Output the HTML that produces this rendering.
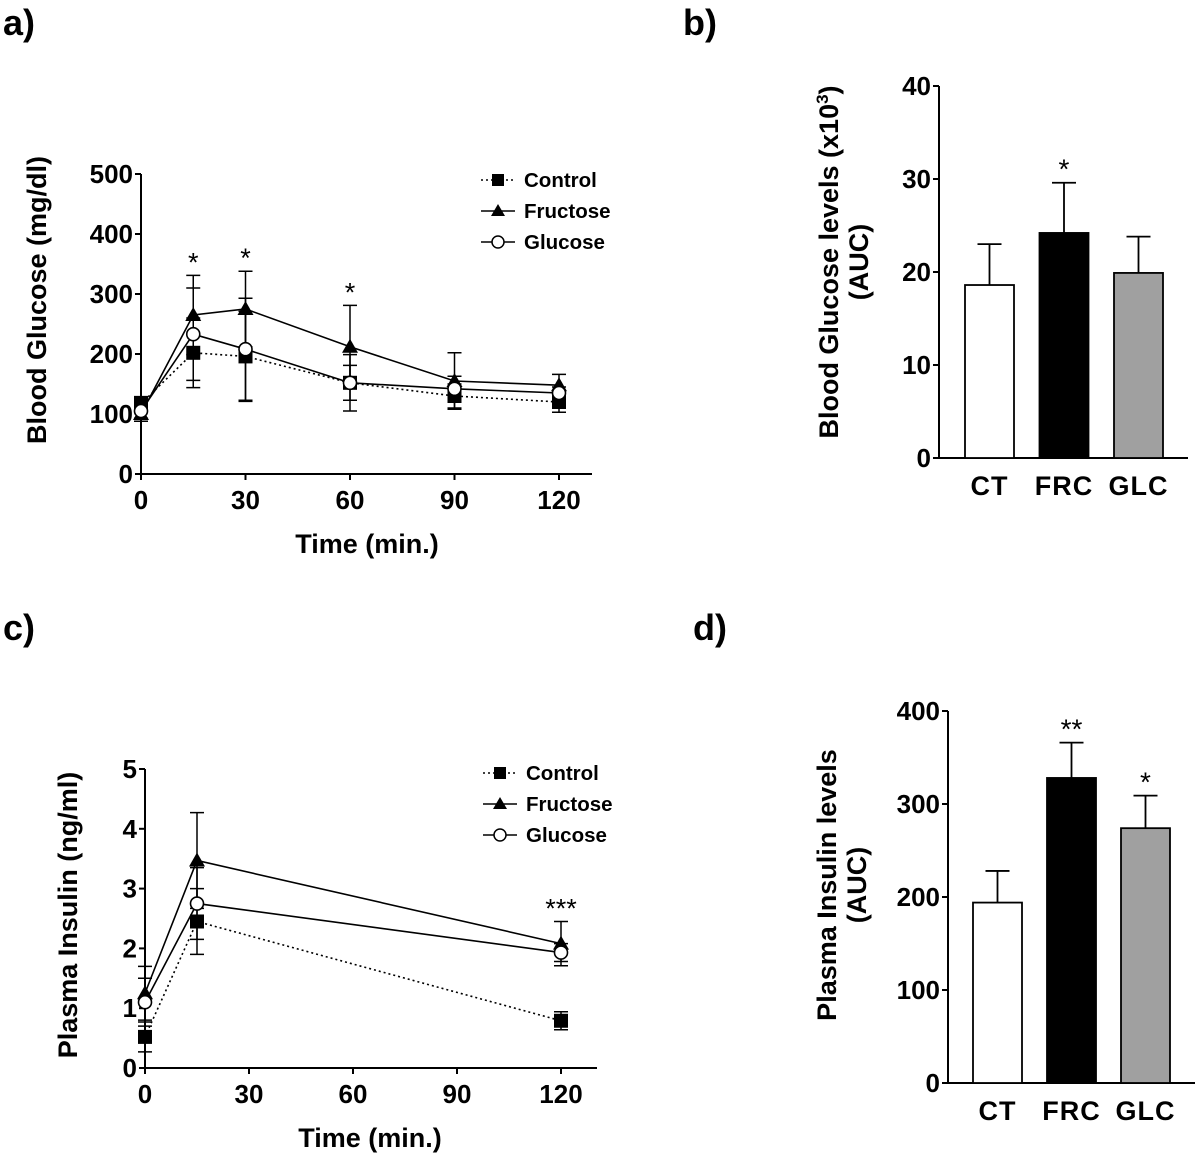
<!DOCTYPE html>
<html><head><meta charset="utf-8"><style>
html,body{margin:0;padding:0;background:#fff;}
svg{display:block;font-family:"Liberation Sans",Arial,sans-serif;}
</style></head><body>
<svg id="fig" width="1200" height="1156" viewBox="0 0 1200 1156" xmlns="http://www.w3.org/2000/svg">
<text x="3" y="35" font-size="36" font-weight="bold">a)</text>
<text x="683" y="35" font-size="36" font-weight="bold">b)</text>
<text x="3" y="640" font-size="36" font-weight="bold">c)</text>
<text x="693" y="640" font-size="36" font-weight="bold">d)</text>
</svg>
<script>
// ---- Panel a data (Blood glucose, mg/dl) ----
const timesA = [0, 15, 30, 60, 90, 120];
const ctrlA = [117, 202, 196, 152, 130, 120];
const ctrlAErr = [12, 58, 75, 47, 20, 17];
const fruA = [100, 265, 275, 212, 155, 148];
const fruAErr = [12, 66, 63, 69, 47, 18];
const gluA = [105, 233, 208, 152, 142, 135];
const gluAErr = [12, 77, 85, 29, 21, 10];
const starsA = ["", "*", "*", "*", "", ""];
const yTicksA = [0, 100, 200, 300, 400, 500];
const xTicksA = [0, 30, 60, 90, 120];
// ---- Panel c data (Plasma insulin, ng/ml) ----
const timesC = [0, 15, 120];
const ctrlC = [0.52, 2.45, 0.79];
const ctrlCErr = [0.25, 0.55, 0.15];
const fruC = [1.25, 3.47, 2.08];
const fruCErr = [0.45, 0.8, 0.37];
const gluC = [1.1, 2.75, 1.93];
const gluCErr = [0.4, 0.6, 0.15];
const starsC = ["", "", "***"];
const yTicksC = [0, 1, 2, 3, 4, 5];
const xTicksC = [0, 30, 60, 90, 120];
// ---- Panel b data (AUC glucose x10^3) ----
const groups = ["CT", "FRC", "GLC"];
const aucGlu = [18.6, 24.2, 19.9];
const aucGluErr = [4.4, 5.4, 3.9];
const starsB = ["", "*", ""];
const yTicksB = [0, 10, 20, 30, 40];
// ---- Panel d data (AUC insulin) ----
const aucIns = [194, 328, 274];
const aucInsErr = [34, 38, 35];
const starsD = ["", "**", "*"];
const yTicksD = [0, 100, 200, 300, 400];
const barFills = ["#ffffff", "#000000", "#a0a0a0"];

const TICK = 26, TITLE = 27;
const svg = document.getElementById('fig');
const NS = 'http://www.w3.org/2000/svg';
function mk(tag, attrs, parent) {
  const e = document.createElementNS(NS, tag);
  for (const k in attrs) e.setAttribute(k, attrs[k]);
  (parent || svg).appendChild(e);
  return e;
}
function txt(s, attrs, parent) { const t = mk('text', attrs, parent); t.textContent = s; return t; }

function linePanel(cfg) {
  const g = mk('g', {});
  
  
  const sx = v => cfg.x0 + (v - cfg.xmin) / (cfg.xmax - cfg.xmin) * (cfg.x1 - cfg.x0);
  const sy = v => cfg.y0 - (v - cfg.ymin) / (cfg.ymax - cfg.ymin) * (cfg.y0 - cfg.y1);
  const ya = mk('line', {x1: cfg.x0, y1: cfg.y0, x2: cfg.x0, y2: cfg.y1, stroke: '#000', 'stroke-width': 2}, g);
  
  
  const xa = mk('line', {x1: cfg.x0, y1: cfg.y0, x2: cfg.xend, y2: cfg.y0, stroke: '#000', 'stroke-width': 2}, g);
  
  
  cfg.yTicks.forEach(v => {
    mk('line', {x1: cfg.x0 - 6, y1: sy(v), x2: cfg.x0, y2: sy(v), stroke: '#000', 'stroke-width': 2}, g);
    const t = txt(String(v), {x: cfg.x0 - 8, y: sy(v) + 9, 'font-size': TICK, 'font-weight': 'bold', 'text-anchor': 'end'}, g);
    
    
  });
  cfg.xTicks.forEach(v => {
    mk('line', {x1: sx(v), y1: cfg.y0, x2: sx(v), y2: cfg.y0 + 6, stroke: '#000', 'stroke-width': 2}, g);
    const t = txt(String(v), {x: sx(v), y: cfg.y0 + 35, 'font-size': TICK, 'font-weight': 'bold', 'text-anchor': 'middle'}, g);
    
    
  });
  const xt = txt('Time (min.)', {x: (cfg.x0 + cfg.x1) / 2 + 17, y: cfg.y0 + 79, 'font-size': TITLE, 'font-weight': 'bold', 'text-anchor': 'middle'}, g);
  
  
  const yt = txt(cfg.ytitle, {x: 0, y: 0, 'font-size': TITLE, 'font-weight': 'bold', 'text-anchor': 'middle', transform: `translate(${cfg.ytx},${cfg.yty}) rotate(-90)`}, g);
  
  
  const series = [
    {n: 'control', v: cfg.ctrl, e: cfg.ctrlErr, dash: '2,3', m: 'sq'},
    {n: 'fructose', v: cfg.fru, e: cfg.fruErr, dash: '', m: 'tri'},
    {n: 'glucose', v: cfg.glu, e: cfg.gluErr, dash: '', m: 'circ'}
  ];
  series.forEach(s => {
    const sg = mk('g', {}, g);
    
    
    s.v.forEach((v, i) => {
      const x = sx(cfg.t[i]);
      const eb = mk('path', {d: `M${x},${sy(v - s.e[i])}V${sy(v + s.e[i])}M${x - 7},${sy(v + s.e[i])}H${x + 7}M${x - 7},${sy(v - s.e[i])}H${x + 7}`, stroke: '#000', 'stroke-width': 1.5, fill: 'none'}, sg);
      
      
    });
    const pts = s.v.map((v, i) => sx(cfg.t[i]) + ',' + sy(v)).join(' ');
    const pl = mk('polyline', {points: pts, fill: 'none', stroke: '#000', 'stroke-width': 1.6, 'stroke-dasharray': s.dash}, sg);
    
    
    s.v.forEach((v, i) => {
      const x = sx(cfg.t[i]), y = sy(v);
      let m;
      if (s.m === 'sq') m = mk('rect', {x: x - 7, y: y - 7, width: 14, height: 14, fill: '#000'}, sg);
      else if (s.m === 'tri') m = mk('polygon', {points: `${x},${y - 8} ${x - 8},${y + 6} ${x + 8},${y + 6}`, fill: '#000'}, sg);
      else m = mk('circle', {cx: x, cy: y, r: 6.5, fill: '#fff', stroke: '#000', 'stroke-width': 1.6}, sg);
      
      
    });
  });
  cfg.stars.forEach((s, i) => {
    if (!s) return;
    const top = Math.max(...[cfg.ctrl, cfg.fru, cfg.glu].map((a, k) => a[i] + [cfg.ctrlErr, cfg.fruErr, cfg.gluErr][k][i]));
    const t = txt(s, {x: sx(cfg.t[i]), y: sy(top) - 4, 'font-size': 27, 'text-anchor': 'middle'}, g);
    
    
  });
  const lg = mk('g', {}, g);
  
  
  const names = ['Control', 'Fructose', 'Glucose'];
  names.forEach((n, i) => {
    const y = cfg.ly + i * 31;
    const lx = cfg.lx;
    const le = mk('g', {}, lg);
    
    
    mk('line', {x1: lx, y1: y, x2: lx + 34, y2: y, stroke: '#000', 'stroke-width': 1.6, 'stroke-dasharray': i === 0 ? '2,3' : ''}, le);
    const cx = lx + 17;
    if (i === 0) mk('rect', {x: cx - 6, y: y - 6, width: 12, height: 12, fill: '#000'}, le);
    else if (i === 1) mk('polygon', {points: `${cx},${y - 7} ${cx - 7},${y + 5} ${cx + 7},${y + 5}`, fill: '#000'}, le);
    else mk('circle', {cx: cx, cy: y, r: 6, fill: '#fff', stroke: '#000', 'stroke-width': 1.5}, le);
    txt(n, {x: lx + 43, y: y + 7, 'font-size': 20.5, 'font-weight': 'bold'}, le);
  });
}

function barPanel(cfg) {
  const g = mk('g', {});
  
  
  const sy = v => cfg.y0 - v / cfg.ymax * (cfg.y0 - cfg.y1);
  const ya = mk('line', {x1: cfg.x0, y1: cfg.y0, x2: cfg.x0, y2: cfg.y1, stroke: '#000', 'stroke-width': 2}, g);
  
  
  const xa = mk('line', {x1: cfg.x0, y1: cfg.y0, x2: cfg.xend, y2: cfg.y0, stroke: '#000', 'stroke-width': 2}, g);
  
  
  cfg.yTicks.forEach(v => {
    mk('line', {x1: cfg.x0 - 6, y1: sy(v), x2: cfg.x0, y2: sy(v), stroke: '#000', 'stroke-width': 2}, g);
    const t = txt(String(v), {x: cfg.x0 - 8, y: sy(v) + 9, 'font-size': TICK, 'font-weight': 'bold', 'text-anchor': 'end'}, g);
    
    
  });
  cfg.lines.forEach((l, i) => {
    const t = txt('', {x: 0, y: 0, 'font-size': TITLE, 'font-weight': 'bold', 'text-anchor': 'middle', transform: `translate(${cfg.ytx + i * 30},${cfg.yty}) rotate(-90)`}, g);
    
    
    t.innerHTML = l;
  });
  const bw = cfg.bw, step = cfg.step;
  cfg.vals.forEach((v, i) => {
    const x = cfg.bx + i * step, cx = x + bw / 2;
    const eb = mk('path', {d: `M${cx},${sy(v)}V${sy(v + cfg.errs[i])}M${cx - 12},${sy(v + cfg.errs[i])}H${cx + 12}`, stroke: '#000', 'stroke-width': 1.8, fill: 'none'}, g);
    
    
    const r = mk('rect', {x: x, y: sy(v), width: bw, height: cfg.y0 - sy(v), fill: barFills[i], stroke: '#000', 'stroke-width': 1.8}, g);
    
    
    const lt = txt(groups[i], {x: cx, y: cfg.y0 + 37, 'font-size': 27, 'font-weight': 'bold', 'text-anchor': 'middle', 'letter-spacing': 1}, g);
    
    
    if (cfg.stars[i]) {
      const st = txt(cfg.stars[i], {x: cx, y: sy(v + cfg.errs[i]) - 4, 'font-size': 28, 'text-anchor': 'middle'}, g);
      
      
    }
  });
}

linePanel({name: 'panel-a-glucose-chart', x0: 141, x1: 559, xend: 592, xmin: 0, xmax: 120, y0: 474, y1: 174, ymin: 0, ymax: 500,
  t: timesA, ctrl: ctrlA, ctrlErr: ctrlAErr, fru: fruA, fruErr: fruAErr, glu: gluA, gluErr: gluAErr, stars: starsA,
  yTicks: yTicksA, xTicks: xTicksA, ytitle: 'Blood Glucose (mg/dl)', ytx: 46, yty: 300, lx: 481, ly: 180});
linePanel({name: 'panel-c-insulin-chart', x0: 145, x1: 561, xend: 597, xmin: 0, xmax: 120, y0: 1068, y1: 769, ymin: 0, ymax: 5,
  t: timesC, ctrl: ctrlC, ctrlErr: ctrlCErr, fru: fruC, fruErr: fruCErr, glu: gluC, gluErr: gluCErr, stars: starsC,
  yTicks: yTicksC, xTicks: xTicksC, ytitle: 'Plasma Insulin (ng/ml)', ytx: 77, yty: 915, lx: 483, ly: 773});
barPanel({name: 'panel-b-glucose-auc-chart', x0: 939, y0: 458, y1: 86, ymax: 40, xend: 1188, bx: 965, bw: 49, step: 74.5,
  vals: aucGlu, errs: aucGluErr, stars: starsB, yTicks: yTicksB,
  lines: ['Blood Glucose levels (x10<tspan font-size="17" dy="-10">3</tspan><tspan dy="10">)</tspan>', '(AUC)'], ytx: 838, yty: 262});
barPanel({name: 'panel-d-insulin-auc-chart', x0: 948, y0: 1083, y1: 711, ymax: 400, xend: 1195, bx: 973, bw: 49, step: 74,
  vals: aucIns, errs: aucInsErr, stars: starsD, yTicks: yTicksD,
  lines: ['Plasma Insulin levels', '(AUC)'], ytx: 836, yty: 885});
</script>
</body></html>
